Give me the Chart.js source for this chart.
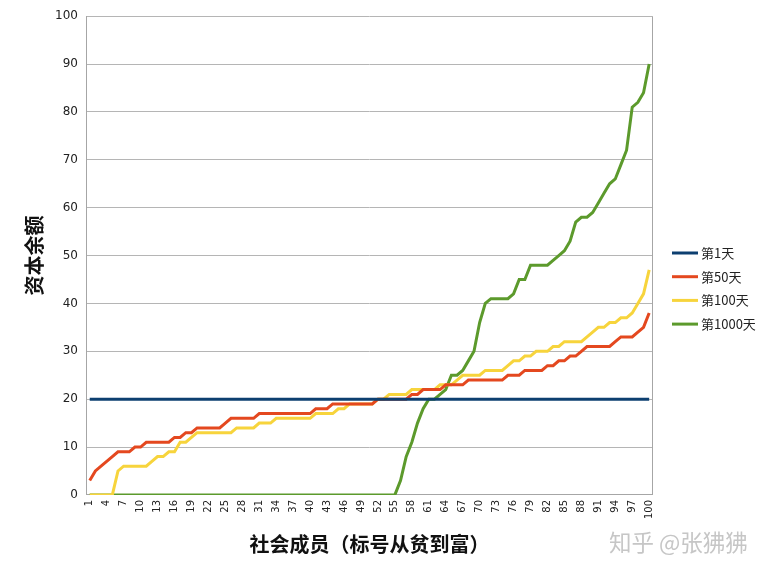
<!DOCTYPE html>
<html>
<head>
<meta charset="utf-8">
<script src="https://cdn.jsdelivr.net/npm/chart.js@4"></script>
<style>
  body { margin: 0; background: #fff; }
  #wrap { width: 768px; height: 576px; }
</style>
</head>
<body>
<div id="wrap"><canvas id="grafico"></canvas></div>
<script>
// categorias: membros 1..100 (do mais pobre ao mais rico)
const membros = [];
for (let i = 1; i <= 100; i++) membros.push(String(i));

const nomesSeries = ["第1天", "第50天", "第100天", "第1000天"];

const dia1 = [20,20,20,20,20,20,20,20,20,20, 20,20,20,20,20,20,20,20,20,20,
              20,20,20,20,20,20,20,20,20,20, 20,20,20,20,20,20,20,20,20,20,
              20,20,20,20,20,20,20,20,20,20, 20,20,20,20,20,20,20,20,20,20,
              20,20,20,20,20,20,20,20,20,20, 20,20,20,20,20,20,20,20,20,20,
              20,20,20,20,20,20,20,20,20,20, 20,20,20,20,20,20,20,20,20,20];

const dia50 = [3,5,6,7,8,9,9,9,10,10, 11,11,11,11,11,12,12,13,13,14,
               14,14,14,14,15,16,16,16,16,16, 17,17,17,17,17,17,17,17,17,17,
               18,18,18,19,19,19,19,19,19,19, 19,20,20,20,20,20,20,21,21,22,
               22,22,22,23,23,23,23,24,24,24, 24,24,24,24,25,25,25,26,26,26,
               26,27,27,28,28,29,29,30,31,31, 31,31,31,32,33,33,33,34,35,38];

const dia100 = [0,0,0,0,0,5,6,6,6,6, 6,7,8,8,9,9,11,11,12,13,
                13,13,13,13,13,13,14,14,14,14, 15,15,15,16,16,16,16,16,16,16,
                17,17,17,17,18,18,19,19,19,19, 19,20,20,21,21,21,21,22,22,22,
                22,22,23,23,23,24,25,25,25,25, 26,26,26,26,27,28,28,29,29,30,
                30,30,31,31,32,32,32,32,33,34, 35,35,36,36,37,37,38,40,42,47];

const dia1000 = [0,0,0,0,0,0,0,0,0,0, 0,0,0,0,0,0,0,0,0,0,
                 0,0,0,0,0,0,0,0,0,0, 0,0,0,0,0,0,0,0,0,0,
                 0,0,0,0,0,0,0,0,0,0, 0,0,0,0,0,3,8,11,15,18,
                 20,20,21,22,25,25,26,28,30,36, 40,41,41,41,41,42,45,45,48,48,
                 48,48,49,50,51,53,57,58,58,59, 61,63,65,66,69,72,81,82,84,90];

const cores = ["#0d3f70", "#e4481f", "#f7d43c", "#5c9a2c"];

// legenda desenhada a mao, do lado direito
const legendaPlugin = {
    id: "legendaManual",
    afterDraw(chart) {
        const ctx = chart.ctx;
        const area = chart.chartArea;
        ctx.save();
        // borda direita da area do grafico
        ctx.strokeStyle = "#a6a6a6";
        ctx.lineWidth = 1;
        ctx.beginPath();
        ctx.moveTo(area.right + 0.5, area.top);
        ctx.lineTo(area.right + 0.5, area.bottom);
        ctx.stroke();

        ctx.font = "13px 'Noto Sans CJK SC', 'DejaVu Sans'";
        ctx.textBaseline = "middle";
        ctx.textAlign = "left";
        chart.data.datasets.forEach((ds, i) => {
            const y = 253 + i * 23.7;
            ctx.strokeStyle = ds.borderColor;
            ctx.lineWidth = 3;
            ctx.beginPath();
            ctx.moveTo(672, y);
            ctx.lineTo(698, y);
            ctx.stroke();
            ctx.fillStyle = "#222";
            ctx.fillText(ds.label, 701, y);
        });

        // marca d'agua
        ctx.font = "22.5px 'Noto Sans CJK SC'";
        ctx.fillStyle = "#c6c6c6";
        ctx.textAlign = "left";
        ctx.fillText("知乎 @张狒狒", 609, 542);
        ctx.restore();
    }
};

new Chart(document.getElementById("grafico"), {
    type: "line",
    data: {
        labels: membros,
        datasets: [dia1, dia50, dia100, dia1000].map((serie, i) => ({
            label: nomesSeries[i],
            data: serie,
            borderColor: cores[i],
            backgroundColor: cores[i],
            borderWidth: 3,
            pointRadius: 0,
            tension: 0
        }))
    },
    options: {
        responsive: true,
        maintainAspectRatio: false,
        animation: false,
        layout: { padding: { left: 22, right: 116, top: 7, bottom: 16 } },
        plugins: {
            legend: { display: false },
            tooltip: { enabled: false }
        },
        scales: {
            x: {
                offset: true,
                grid: { display: false, drawTicks: false },
                border: { color: "#a6a6a6" },
                ticks: {
                    autoSkip: false,
                    maxRotation: 90,
                    minRotation: 90,
                    padding: 5,
                    color: "#222",
                    font: { family: "'DejaVu Sans'", size: 10 },
                    callback: function (v, i) { return i % 3 === 0 ? membros[i] : ""; }
                },
                title: {
                    display: true,
                    text: "社会成员（标号从贫到富）",
                    color: "#111",
                    font: { family: "'Noto Sans CJK SC'", size: 20, weight: "bold" },
                    padding: { top: 8, bottom: 4 }
                }
            },
            y: {
                min: 0,
                max: 100,
                grid: { color: "#b5b5b5", drawTicks: false },
                border: { color: "#a6a6a6" },
                ticks: {
                    stepSize: 10,
                    padding: 9,
                    color: "#222",
                    font: { family: "'DejaVu Sans'", size: 12 }
                },
                title: {
                    display: true,
                    text: "资本余额",
                    color: "#111",
                    font: { family: "'Noto Sans CJK SC'", size: 20, weight: "bold" },
                    padding: { top: 0, bottom: 0 }
                }
            }
        }
    },
    plugins: [legendaPlugin]
});
</script>
</body>
</html>
